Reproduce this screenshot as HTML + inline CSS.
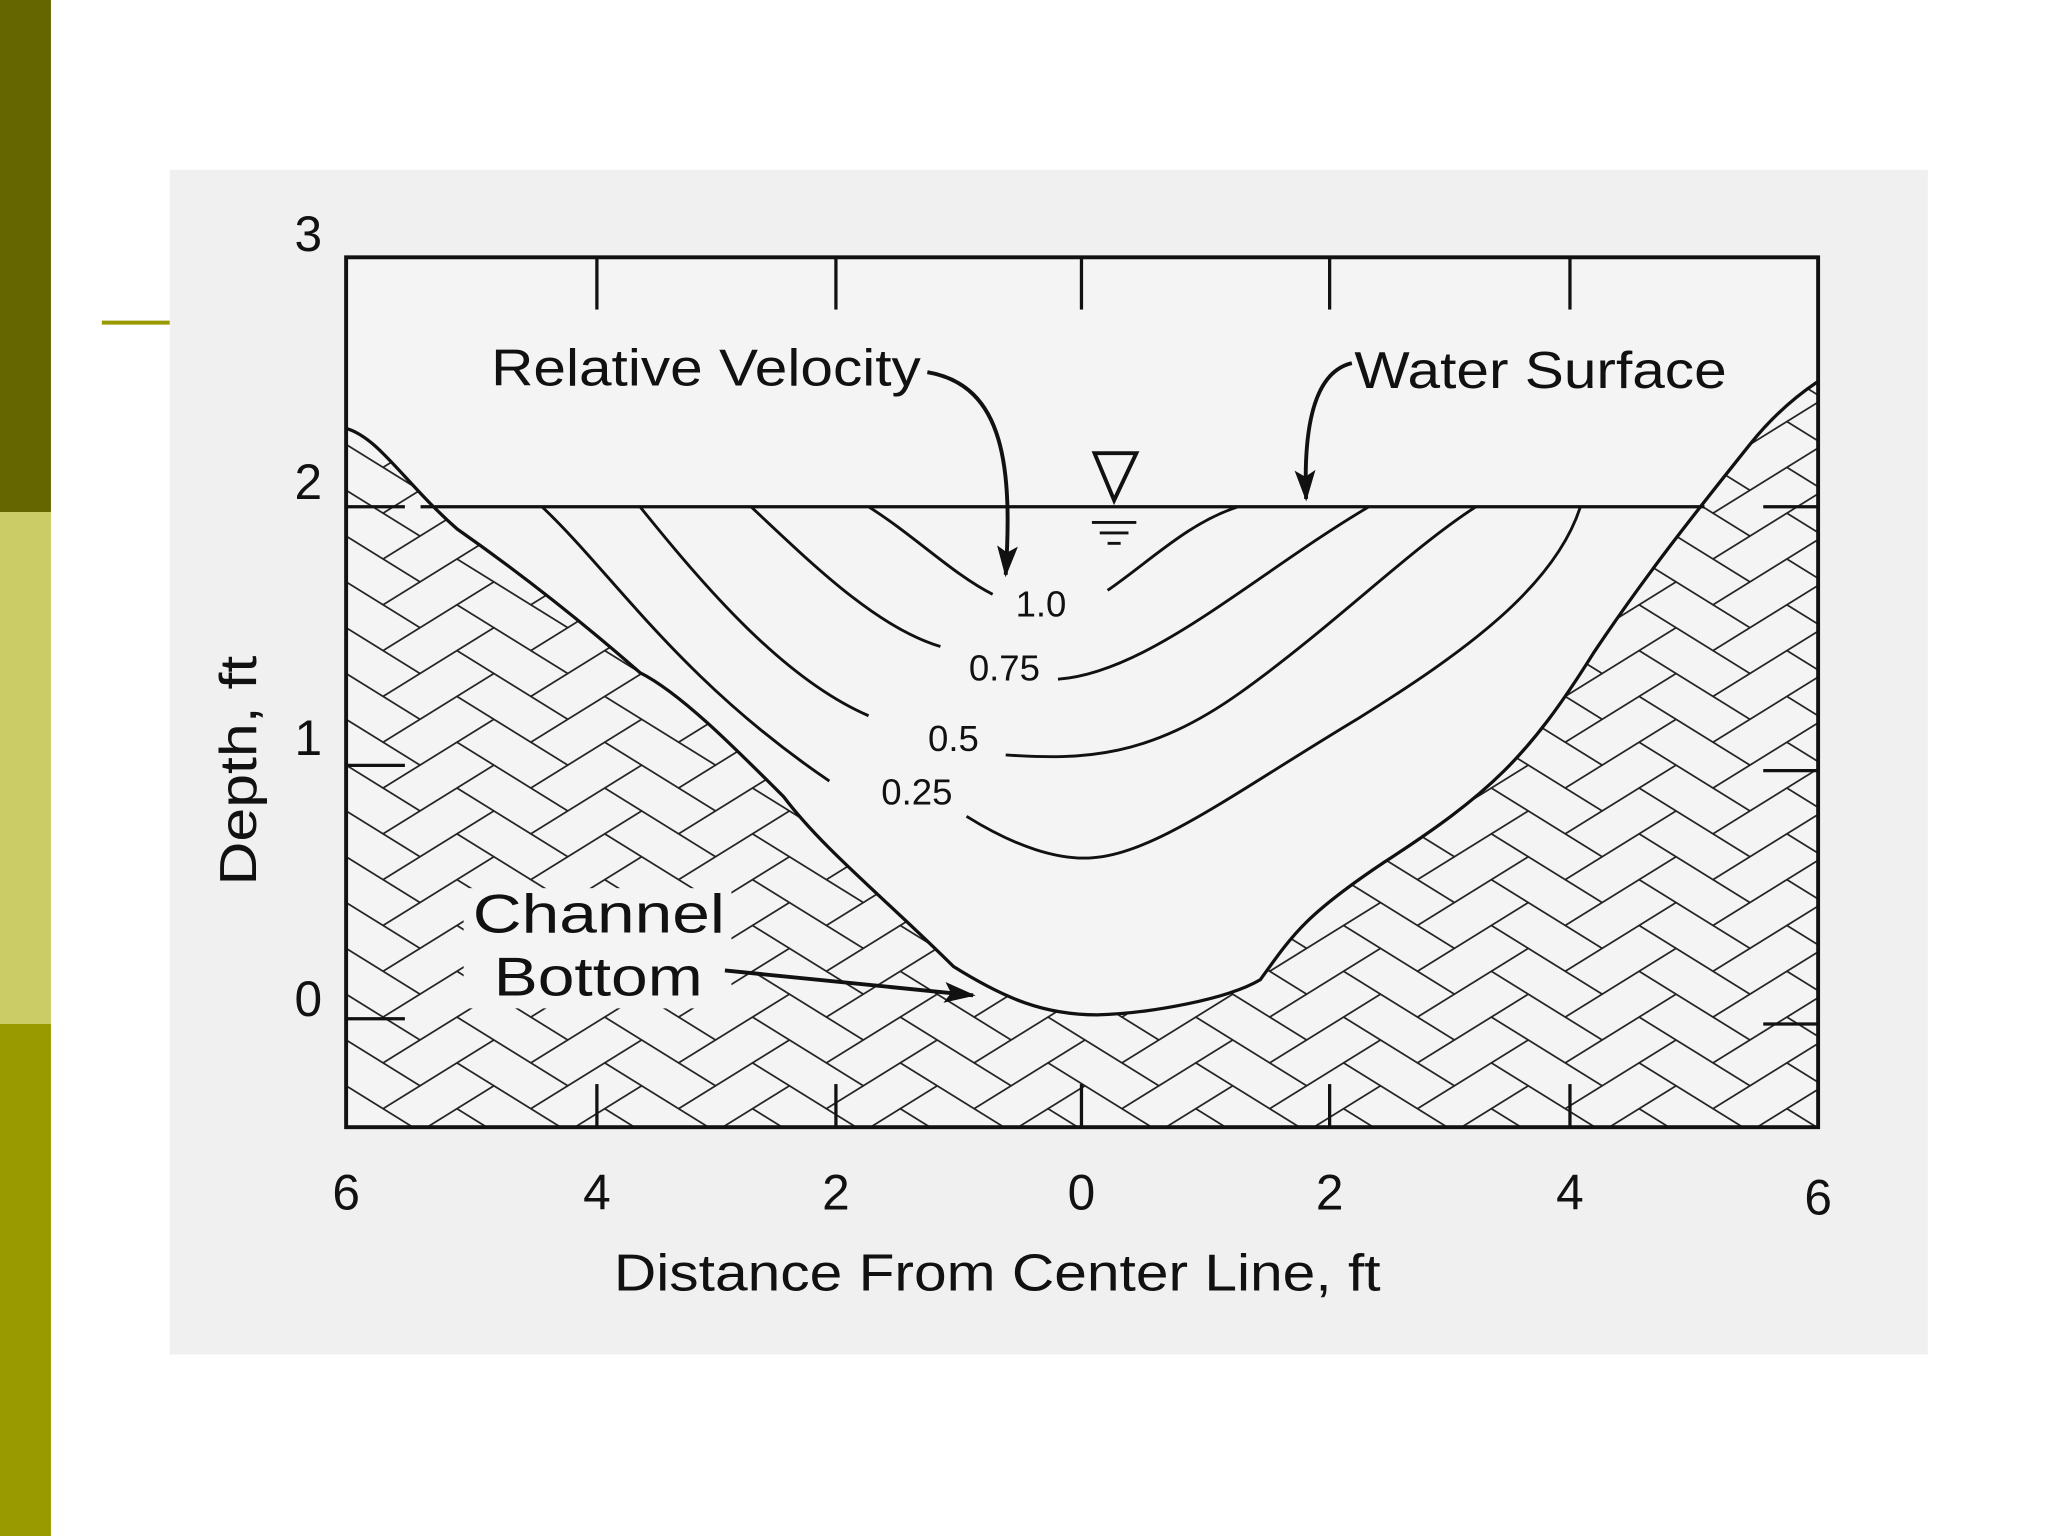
<!DOCTYPE html>
<html><head><style>html,body{margin:0;padding:0;background:#fff;}svg{display:block}</style></head>
<body>
<svg width="2048" height="1536" viewBox="0 0 1568 1176" xmlns="http://www.w3.org/2000/svg" font-family="Liberation Sans, sans-serif">
<defs>
<pattern id="hb" x="0" y="0" width="4" height="4" patternUnits="userSpaceOnUse" patternTransform="translate(265,200) scale(1,0.62) rotate(45) scale(40)">
<g fill="none" stroke="#222" stroke-width="0.04">
<rect x="-1" y="-1" width="2" height="1"/><rect x="0" y="0" width="2" height="1"/><rect x="1" y="1" width="2" height="1"/><rect x="2" y="2" width="2" height="1"/><rect x="3" y="3" width="2" height="1"/><rect x="4" y="4" width="2" height="1"/>
<rect x="-2" y="2" width="2" height="1"/><rect x="-1" y="3" width="2" height="1"/><rect x="0" y="4" width="2" height="1"/><rect x="3" y="-1" width="2" height="1"/><rect x="4" y="0" width="2" height="1"/><rect x="-4" y="0" width="2" height="1"/><rect x="-3" y="1" width="2" height="1"/>
<rect x="-1" y="0" width="1" height="2"/><rect x="0" y="1" width="1" height="2"/><rect x="1" y="2" width="1" height="2"/><rect x="2" y="3" width="1" height="2"/><rect x="3" y="4" width="1" height="2"/>
<rect x="1" y="-2" width="1" height="2"/><rect x="2" y="-1" width="1" height="2"/><rect x="3" y="0" width="1" height="2"/><rect x="4" y="1" width="1" height="2"/><rect x="-1" y="4" width="1" height="2"/><rect x="0" y="-3" width="1" height="2"/>
</g>
</pattern>
<marker id="ar" markerWidth="26" markerHeight="20" refX="22" refY="8" orient="auto" markerUnits="userSpaceOnUse" viewBox="0 0 26 16"><path d="M0 0 L24 8 L0 16 L5 8 Z" fill="#111"/></marker>
</defs>
<rect width="1568" height="1176" fill="#fff"/>
<rect x="0" y="0" width="39" height="392" fill="#666600"/>
<rect x="0" y="392" width="39" height="392" fill="#cccc66"/>
<rect x="0" y="784" width="39" height="392" fill="#999900"/>
<line x1="78" y1="247" x2="130" y2="247" stroke="#999900" stroke-width="3"/>
<rect x="130" y="130" width="1346" height="907" fill="#f0f0f0"/>
<rect x="265" y="197" width="1127" height="666" fill="#f4f4f4"/>
<path d="M265 328 C290 335 310 370 350 405 C400 440 450 480 490 515 C520 530 560 570 600 610 C630 650 680 690 730 740 C770 765 800 777 840 777 C880 776 940 765 965 750 C990 715 1000 700 1060 660 C1140 608 1170 580 1220 500 C1260 440 1300 390 1340 340 C1360 315 1380 300 1392 292 L1392 863 L265 863 Z" fill="url(#hb)"/>
<rect x="355" y="680" width="205" height="92" fill="#f4f4f4"/>
<path d="M265 328 C290 335 310 370 350 405 C400 440 450 480 490 515 C520 530 560 570 600 610 C630 650 680 690 730 740 C770 765 800 777 840 777 C880 776 940 765 965 750 C990 715 1000 700 1060 660 C1140 608 1170 580 1220 500 C1260 440 1300 390 1340 340 C1360 315 1380 300 1392 292" fill="none" stroke="#111" stroke-width="2.5"/>
<rect x="265" y="197" width="1127" height="666" fill="none" stroke="#111" stroke-width="3"/>
<g stroke="#111" stroke-width="2.5">
<line x1="457" y1="197" x2="457" y2="237"/><line x1="640" y1="197" x2="640" y2="237"/><line x1="828" y1="197" x2="828" y2="237"/><line x1="1018" y1="197" x2="1018" y2="237"/><line x1="1202" y1="197" x2="1202" y2="237"/>
<line x1="457" y1="863" x2="457" y2="830"/><line x1="640" y1="863" x2="640" y2="830"/><line x1="828" y1="863" x2="828" y2="830"/><line x1="1018" y1="863" x2="1018" y2="830"/><line x1="1202" y1="863" x2="1202" y2="830"/>
<line x1="265" y1="586" x2="310" y2="586"/><line x1="265" y1="780" x2="310" y2="780"/><line x1="265" y1="388" x2="310" y2="388"/>
<line x1="1350" y1="388" x2="1392" y2="388"/><line x1="1350" y1="590" x2="1392" y2="590"/><line x1="1350" y1="784" x2="1392" y2="784"/>
<line x1="322" y1="388" x2="1305" y2="388"/>
</g>
<g fill="none" stroke="#111" stroke-width="2.2">
<path d="M665 388 C700 410 730 440 760 455"/>
<path d="M848 452 C880 430 910 400 948 388"/>
<path d="M575 388 C620 430 670 480 720 495"/>
<path d="M810 520 C880 515 960 440 1048 388"/>
<path d="M490 388 C540 450 600 520 665 548"/>
<path d="M770 578 C830 582 880 580 950 530 C1020 480 1080 420 1130 388"/>
<path d="M415 388 C470 440 520 520 635 598"/>
<path d="M740 625 C780 650 810 657 830 657 C880 657 940 610 1040 550 C1120 500 1190 450 1210 388"/>
<path d="M710 285 C770 295 775 360 770 440" marker-end="url(#ar)" stroke-width="3"/>
<path d="M1035 278 C1005 285 998 330 1000 382" marker-end="url(#ar)" stroke-width="3"/>
<path d="M555 743 L745 762" marker-end="url(#ar)" stroke-width="3"/>
<path d="M838 347 L870 347 L853 383 Z" stroke-width="3"/>
<line x1="836" y1="400" x2="870" y2="400"/><line x1="842" y1="408" x2="864" y2="408"/><line x1="848" y1="416" x2="858" y2="416"/>
</g>
<g fill="#111">
<text x="376" y="295" font-size="40" textLength="329" lengthAdjust="spacingAndGlyphs">Relative Velocity</text>
<text x="1037" y="297" font-size="40" textLength="285" lengthAdjust="spacingAndGlyphs">Water Surface</text>
<text x="797" y="472" font-size="28" text-anchor="middle">1.0</text>
<text x="769" y="521" font-size="28" text-anchor="middle">0.75</text>
<text x="730" y="575" font-size="28" text-anchor="middle">0.5</text>
<text x="702" y="616" font-size="28" text-anchor="middle">0.25</text>
<text x="362" y="714" font-size="42" textLength="193" lengthAdjust="spacingAndGlyphs">Channel</text>
<text x="378" y="762" font-size="42" textLength="160" lengthAdjust="spacingAndGlyphs">Bottom</text>
<g font-size="38" text-anchor="middle">
<text x="236" y="192">3</text><text x="236" y="382">2</text><text x="236" y="578">1</text><text x="236" y="778">0</text>
<text x="265" y="926">6</text><text x="457" y="926">4</text><text x="640" y="926">2</text><text x="828" y="926">0</text><text x="1018" y="926">2</text><text x="1202" y="926">4</text><text x="1392" y="930">6</text>
</g>
<text x="470" y="988" font-size="40" textLength="587" lengthAdjust="spacingAndGlyphs">Distance From Center Line, ft</text>
<text transform="translate(196,590) rotate(-90)" font-size="40" text-anchor="middle" textLength="176" lengthAdjust="spacingAndGlyphs">Depth, ft</text>
</g>
</svg>
</body></html>
